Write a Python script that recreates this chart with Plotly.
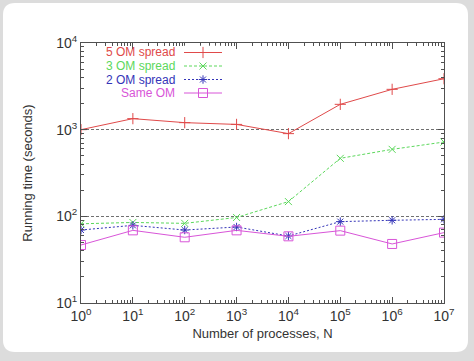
import plotly.graph_objects as go

# ---- data ----
processes = [1, 10, 100, 1000, 1e4, 1e5, 1e6, 1e7]
om5 = [1000, 1340, 1205, 1150, 900, 1960, 2920, 3870]
om3 = [82, 85, 83, 97, 148, 467, 593, 720]
om2 = [69.5, 78.7, 69.5, 75.3, 59.3, 86.9, 90, 92.3]
same = [46.7, 68.9, 57.3, 68.9, 58.8, 68.4, 48, 64.9]

series_names = ["5 OM spread", "3 OM spread", "2 OM spread", "Same OM"]
x_tickvals = [1, 10, 100, 1000, 1e4, 1e5, 1e6, 1e7]
x_ticktext = ["10<sup>%d</sup>" % i for i in range(8)]
y_tickvals = [10, 100, 1000, 10000]
y_ticktext = ["10<sup>%d</sup>" % i for i in range(1, 5)]

colors = ["#e04a4a", "#5cd85c", "#3434b8", "#d855d8"]
dashes = ["solid", "3px,2px", "2px,2px", "solid"]
symbols = ["cross-thin", "x-thin", "asterisk", "square-open"]
sizes = [8, 7, 7, 9]
values = [om5, om3, om2, same]

FONT = "Liberation Sans, Arial, sans-serif"
W, H = 474, 361
L, R, T, B = 81, 30, 43, 58
pw, ph = W - L - R, H - T - B

def px2x(x):
    return (x - L) / pw

def px2y(y):
    return (H - B - y) / ph

fig = go.Figure()
for name, vals, c, d, s, sz in zip(series_names, values, colors, dashes, symbols, sizes):
    fig.add_trace(go.Scatter(
        x=processes, y=vals, mode="lines+markers", name=name,
        line=dict(color=c, width=1, dash=d),
        marker=dict(symbol=s, size=sz, color=c, line=dict(color=c, width=1)),
        showlegend=False, xaxis="x", yaxis="y"))

# legend samples drawn on an overlay axis
rows = [0, 1, 2, 3]
for i, (name, c, d, s, sz) in enumerate(zip(series_names, colors, dashes, symbols, sizes)):
    fig.add_trace(go.Scatter(
        x=[0, 1], y=[rows[i], rows[i]], mode="lines",
        line=dict(color=c, width=1, dash=d), showlegend=False,
        xaxis="x2", yaxis="y2", hoverinfo="skip"))
    fig.add_trace(go.Scatter(
        x=[0.5], y=[rows[i]], mode="markers",
        marker=dict(symbol=s, size=sz, color=c, line=dict(color=c, width=1)),
        showlegend=False, xaxis="x2", yaxis="y2", hoverinfo="skip"))
    fig.add_annotation(
        x=px2x(177), y=rows[i], xref="paper", yref="y2", text=name,
        showarrow=False, xanchor="right", yanchor="middle",
        font=dict(color=c, size=12, family=FONT))

axis_common = dict(
    showline=True, linecolor="#505050", linewidth=1, mirror="ticks",
    ticks="inside", ticklen=6, tickcolor="#505050",
    tickfont=dict(size=14, color="#333333", family=FONT),
    zeroline=False, automargin=False,
)

fig.update_layout(
    width=W, height=H,
    margin=dict(l=L, r=R, t=T, b=B, autoexpand=False),
    paper_bgcolor="#dcdcdc",
    plot_bgcolor="white",
    font=dict(family=FONT, color="#333333"),
    xaxis=dict(
        type="log", range=[0, 7], tickvals=x_tickvals, ticktext=x_ticktext,
        showgrid=False,
        minor=dict(ticks="inside", ticklen=3, tickcolor="#505050", dtick="D1"),
        title=dict(text="Number of processes, N", font=dict(size=13, color="#333333"), standoff=6),
        **axis_common),
    yaxis=dict(
        type="log", range=[1, 4], tickvals=y_tickvals, ticktext=y_ticktext,
        showgrid=True, gridcolor="#707070", griddash="3px,2px", gridwidth=1,
        minor=dict(ticks="inside", ticklen=3, tickcolor="#505050", dtick="D1", showgrid=False),
        title=dict(text="Running time (seconds)", font=dict(size=13, color="#333333"), standoff=20),
        **axis_common),
    xaxis2=dict(domain=[px2x(184), px2x(222)], range=[0, 1], visible=False,
                anchor="y2", fixedrange=True),
    yaxis2=dict(domain=[px2y(99.75), px2y(45.75)], range=[3.5, -0.5], visible=False,
                anchor="x2", fixedrange=True),
)

# white rounded page panel over grey border
x0, x1 = px2x(3), px2x(468)
y0, y1 = px2y(352), px2y(3)
rx = 12 / pw
ry = 12 / ph
path = (f"M {x0+rx},{y1} L {x1-rx},{y1} Q {x1},{y1} {x1},{y1-ry} "
        f"L {x1},{y0+ry} Q {x1},{y0} {x1-rx},{y0} L {x0+rx},{y0} "
        f"Q {x0},{y0} {x0},{y0+ry} L {x0},{y1-ry} Q {x0},{y1} {x0+rx},{y1} Z")
fig.add_shape(type="path", path=path, xref="paper", yref="paper",
              fillcolor="white", line=dict(width=0), layer="below")

fig.write_html("out.html", config={"displayModeBar": False},
               post_script="document.body.style.margin='0';")
